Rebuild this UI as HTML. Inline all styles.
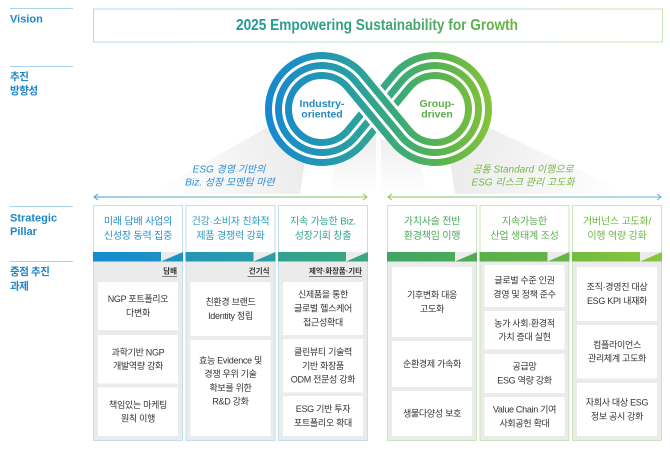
<!DOCTYPE html>
<html><head><meta charset="utf-8">
<style>
html,body{margin:0;padding:0;background:#fff;}
svg{display:block;}
text{font-family:"Liberation Sans","Noto Sans CJK KR",sans-serif;dominant-baseline:central;}
.lab{font-size:11px;font-weight:bold;fill:#1c86c8;}
.labk{font-size:10.5px;font-weight:bold;fill:#1c86c8;letter-spacing:-0.4px;}
.hd{font-size:10px;text-anchor:middle;letter-spacing:-0.2px;}
.cd{font-size:9px;fill:#333;text-anchor:middle;letter-spacing:-0.3px;}
.cat{font-size:7.5px;font-weight:bold;fill:#333;text-anchor:end;}
.itl{font-size:10px;font-style:italic;text-anchor:middle;}
</style></head><body>
<svg width="670" height="450" viewBox="0 0 670 450" xmlns="http://www.w3.org/2000/svg">
<defs>
 <linearGradient id="inf" gradientUnits="userSpaceOnUse" x1="266" y1="0" x2="492" y2="0">
  <stop offset="0" stop-color="#1787d2"/>
  <stop offset="0.4" stop-color="#2aa0a0"/>
  <stop offset="0.6" stop-color="#3dab75"/>
  <stop offset="0.8" stop-color="#5db54b"/>
  <stop offset="1" stop-color="#86c33c"/>
 </linearGradient>
 <linearGradient id="vb" x1="0" y1="0" x2="1" y2="0">
  <stop offset="0" stop-color="#b0d8f0"/><stop offset="1" stop-color="#c8e5b3"/>
 </linearGradient>
 <linearGradient id="tt" gradientUnits="userSpaceOnUse" x1="236" y1="0" x2="518" y2="0">
  <stop offset="0" stop-color="#1f979c"/><stop offset="0.5" stop-color="#3aa57a"/><stop offset="1" stop-color="#6cb440"/>
 </linearGradient>
 <linearGradient id="arL" x1="0" y1="0" x2="1" y2="0">
  <stop offset="0" stop-color="#3fa1dc"/><stop offset="1" stop-color="#8cc84b"/>
 </linearGradient>
 <linearGradient id="arR" x1="0" y1="0" x2="1" y2="0">
  <stop offset="0" stop-color="#8cc84b"/><stop offset="1" stop-color="#5fb2e2"/>
 </linearGradient>
 <linearGradient id="shL" gradientUnits="userSpaceOnUse" x1="290" y1="140" x2="160" y2="194">
  <stop offset="0" stop-color="#ececec"/><stop offset="1" stop-color="#ffffff"/>
 </linearGradient>
 <linearGradient id="shR" gradientUnits="userSpaceOnUse" x1="470" y1="140" x2="620" y2="194">
  <stop offset="0" stop-color="#ececec"/><stop offset="1" stop-color="#ffffff"/>
 </linearGradient>
 <linearGradient id="shC" x1="0" y1="0" x2="0" y2="1">
  <stop offset="0" stop-color="#ededed"/><stop offset="1" stop-color="#ffffff"/>
 </linearGradient>
 <linearGradient id="b1" x1="0" y1="0" x2="1" y2="0"><stop offset="0" stop-color="#168bcf"/><stop offset="1" stop-color="#1f92c4"/></linearGradient>
 <linearGradient id="b2" x1="0" y1="0" x2="1" y2="0"><stop offset="0" stop-color="#2496b6"/><stop offset="1" stop-color="#2b9ea6"/></linearGradient>
 <linearGradient id="b3" x1="0" y1="0" x2="1" y2="0"><stop offset="0" stop-color="#32a291"/><stop offset="1" stop-color="#3ba77c"/></linearGradient>
 <linearGradient id="b4" x1="0" y1="0" x2="1" y2="0"><stop offset="0" stop-color="#3fa663"/><stop offset="1" stop-color="#4fab55"/></linearGradient>
 <linearGradient id="b5" x1="0" y1="0" x2="1" y2="0"><stop offset="0" stop-color="#5aaf4c"/><stop offset="1" stop-color="#67b545"/></linearGradient>
 <linearGradient id="b6" x1="0" y1="0" x2="1" y2="0"><stop offset="0" stop-color="#74bb42"/><stop offset="1" stop-color="#8bc63c"/></linearGradient>
</defs>

<!-- left labels -->
<line x1="10" y1="8.5" x2="73" y2="8.5" stroke="#a9d4ee" stroke-width="1"/>
<text class="lab" x="10" y="19.5">Vision</text>
<line x1="10" y1="66.5" x2="73" y2="66.5" stroke="#a9d4ee" stroke-width="1"/>
<text class="labk" x="10" y="77">추진</text>
<text class="labk" x="10" y="91">방향성</text>
<line x1="10" y1="206.5" x2="73" y2="206.5" stroke="#a9d4ee" stroke-width="1"/>
<text class="lab" x="10" y="218.5">Strategic</text>
<text class="lab" x="10" y="232">Pillar</text>
<line x1="10" y1="261.5" x2="73" y2="261.5" stroke="#a9d4ee" stroke-width="1"/>
<text class="labk" x="10" y="272">중점 추진</text>
<text class="labk" x="10" y="286.5">과제</text>

<!-- vision box -->
<rect x="93.5" y="9" width="569" height="33" fill="#fff" stroke="url(#vb)" stroke-width="1"/>
<text x="377" y="25.7" text-anchor="middle" font-size="16" font-weight="bold" fill="url(#tt)" textLength="282" lengthAdjust="spacingAndGlyphs">2025 Empowering Sustainability for Growth</text>

<!-- shading -->
<polygon points="266,128 305,160 300,194 150,194" fill="url(#shL)"/>
<polygon points="490,128 450,160 455,194 630,194" fill="url(#shR)"/>
<polygon points="340,135 416,135 426,194 330,194" fill="url(#shC)"/>
<rect x="376" y="135" width="5" height="59" fill="#ffffff" opacity="0.85"/>

<!-- infinity -->
<path d="M355.49,136.76 L401.51,81.24 A43.5,43.5 0 1 1 401.51,136.76 L355.49,81.24 A43.5,43.5 0 1 0 355.49,136.76 Z" fill="#fff"/>
<g fill="none" stroke-linecap="butt">
 <path d="M355.49,136.76 L401.51,81.24 A43.5,43.5 0 1 1 401.51,136.76" stroke="url(#inf)" stroke-width="27"/>
 <path d="M355.49,136.76 L401.51,81.24 A43.5,43.5 0 1 1 401.51,136.76" stroke="#fff" stroke-width="13"/>
 <path d="M355.49,136.76 L401.51,81.24 A43.5,43.5 0 1 1 401.51,136.76" stroke="url(#inf)" stroke-width="7"/>
 <path d="M396,130.1 L361,87.9" stroke="#fff" stroke-width="33"/>
 <path d="M401.51,136.76 L355.49,81.24 A43.5,43.5 0 1 0 355.49,136.76" stroke="url(#inf)" stroke-width="27"/>
 <path d="M401.51,136.76 L355.49,81.24 A43.5,43.5 0 1 0 355.49,136.76" stroke="#fff" stroke-width="13"/>
 <path d="M401.51,136.76 L355.49,81.24 A43.5,43.5 0 1 0 355.49,136.76" stroke="url(#inf)" stroke-width="7"/>
</g>
<text x="322" y="104" text-anchor="middle" font-size="10.5" font-weight="bold" fill="#2589c2">Industry-</text>
<text x="322" y="114.5" text-anchor="middle" font-size="10.5" font-weight="bold" fill="#2589c2">oriented</text>
<text x="437" y="104" text-anchor="middle" font-size="10.5" font-weight="bold" fill="#5aaf45">Group-</text>
<text x="437" y="114.5" text-anchor="middle" font-size="10.5" font-weight="bold" fill="#5aaf45">driven</text>

<!-- italic captions -->
<text class="itl" x="229" y="170" fill="#2d8fd4">ESG 경영 기반의</text>
<text class="itl" x="230" y="183" fill="#2d8fd4">Biz. 성장 모멘텀 마련</text>
<text class="itl" x="523" y="170" fill="#77b843">공통 Standard 이행으로</text>
<text class="itl" x="523" y="183" fill="#77b843">ESG 리스크 관리 고도화</text>

<!-- arrows -->
<g fill="none" stroke-width="1">
 <path d="M94,197 L367,197 M98,194 L94,197 L98,200 M363,194 L367,197 L363,200" stroke="url(#arL)"/>
 <path d="M388,197 L661,197 M392,194 L388,197 L392,200 M657,194 L661,197 L657,200" stroke="url(#arR)"/>
</g>

<!-- columns: left group -->
<g>
 <!-- col1 -->
 <rect x="93.5" y="205.5" width="89" height="235" fill="#ebebeb" stroke="#c3e0ee"/>
 <rect x="94" y="206" width="88" height="46" fill="#fff"/>
 <polygon points="93,252 161,252 161,261.5 183,252 183,261.5 93,261.5" fill="url(#b1)"/>
 <text class="hd" x="138" y="222" fill="#238dd0">미래 담배 사업의</text>
 <text class="hd" x="138" y="236.5" fill="#238dd0">신성장 동력 집중</text>
 <text class="cat" x="177" y="271">담배</text>
 <line x1="162" y1="276.5" x2="177" y2="276.5" stroke="#555" stroke-width="0.7"/>
 <rect x="98" y="282" width="80" height="48" fill="#fff"/>
 <rect x="98" y="335" width="80" height="48.5" fill="#fff"/>
 <rect x="98" y="387.5" width="80" height="48.5" fill="#fff"/>
 <text class="cd" x="138" y="299.1">NGP 포트폴리오</text>
 <text class="cd" x="138" y="312.9">다변화</text>
 <text class="cd" x="138" y="352.4">과학기반 NGP</text>
 <text class="cd" x="138" y="366.2">개발역량 강화</text>
 <text class="cd" x="138" y="404.9">책임있는 마케팅</text>
 <text class="cd" x="138" y="418.7">원칙 이행</text>

 <!-- col2 -->
 <rect x="186" y="205.5" width="89" height="235" fill="#ebebeb" stroke="#c3e0ee"/>
 <rect x="186.5" y="206" width="88" height="46" fill="#fff"/>
 <polygon points="185.5,252 253.5,252 253.5,261.5 275.5,252 275.5,261.5 185.5,261.5" fill="url(#b2)"/>
 <text class="hd" x="230.5" y="222" fill="#2a9bbf">건강·소비자 친화적</text>
 <text class="hd" x="230.5" y="236.5" fill="#2a9bbf">제품 경쟁력 강화</text>
 <text class="cat" x="269.5" y="271">건기식</text>
 <line x1="247.5" y1="276.5" x2="269.5" y2="276.5" stroke="#555" stroke-width="0.7"/>
 <rect x="190.5" y="282" width="80" height="54" fill="#fff"/>
 <rect x="190.5" y="340" width="80" height="96" fill="#fff"/>
 <text class="cd" x="230.5" y="302.1">친환경 브랜드</text>
 <text class="cd" x="230.5" y="315.9">Identity 정립</text>
 <text class="cd" x="230.5" y="360.3">효능 Evidence 및</text>
 <text class="cd" x="230.5" y="374.1">경쟁 우위 기술</text>
 <text class="cd" x="230.5" y="387.9">확보를 위한</text>
 <text class="cd" x="230.5" y="401.7">R&amp;D 강화</text>

 <!-- col3 -->
 <rect x="278.5" y="205.5" width="89" height="235" fill="#ebebeb" stroke="#c3e0ee"/>
 <rect x="279" y="206" width="88" height="46" fill="#fff"/>
 <polygon points="278,252 346,252 346,261.5 368,252 368,261.5 278,261.5" fill="url(#b3)"/>
 <text class="hd" x="323" y="222" fill="#2ba58e">지속 가능한 Biz.</text>
 <text class="hd" x="323" y="236.5" fill="#2ba58e">성장기회 창출</text>
 <text class="cat" x="362" y="271" textLength="53" lengthAdjust="spacingAndGlyphs">제약·화장품·기타</text>
 <line x1="309" y1="276.5" x2="362" y2="276.5" stroke="#555" stroke-width="0.7"/>
 <rect x="283" y="282" width="80" height="53" fill="#fff"/>
 <rect x="283" y="339" width="80" height="53.5" fill="#fff"/>
 <rect x="283" y="396" width="80" height="40" fill="#fff"/>
 <text class="cd" x="323" y="294.7">신제품을 통한</text>
 <text class="cd" x="323" y="308.5">글로벌 헬스케어</text>
 <text class="cd" x="323" y="322.3">접근성확대</text>
 <text class="cd" x="323" y="352">클린뷰티 기술력</text>
 <text class="cd" x="323" y="365.8">기반 화장품</text>
 <text class="cd" x="323" y="379.6">ODM 전문성 강화</text>
 <text class="cd" x="323" y="409.1">ESG 기반 투자</text>
 <text class="cd" x="323" y="422.9">포트폴리오 확대</text>
</g>

<!-- columns: right group -->
<g>
 <!-- col4 -->
 <rect x="387.5" y="205.5" width="89" height="235" fill="#ebebeb" stroke="#cbe6bb"/>
 <rect x="388" y="206" width="88" height="46" fill="#fff"/>
 <polygon points="387,252 455,252 455,261.5 477,252 477,261.5 387,261.5" fill="url(#b4)"/>
 <text class="hd" x="432" y="222" fill="#44a95a">가치사슬 전반</text>
 <text class="hd" x="432" y="236.5" fill="#44a95a">환경책임 이행</text>
 <rect x="392" y="267" width="80" height="70" fill="#fff"/>
 <rect x="392" y="341" width="80" height="46" fill="#fff"/>
 <rect x="392" y="391" width="80" height="45" fill="#fff"/>
 <text class="cd" x="432" y="295.1">기후변화 대응</text>
 <text class="cd" x="432" y="308.9">고도화</text>
 <text class="cd" x="432" y="364">순환경제 가속화</text>
 <text class="cd" x="432" y="413.5">생물다양성 보호</text>

 <!-- col5 -->
 <rect x="480" y="205.5" width="89" height="235" fill="#ebebeb" stroke="#cbe6bb"/>
 <rect x="480.5" y="206" width="88" height="46" fill="#fff"/>
 <polygon points="479.5,252 547.5,252 547.5,261.5 569.5,252 569.5,261.5 479.5,261.5" fill="url(#b5)"/>
 <text class="hd" x="524.5" y="222" fill="#55ae49">지속가능한</text>
 <text class="hd" x="524.5" y="236.5" fill="#55ae49">산업 생태계 조성</text>
 <rect x="484.5" y="265" width="80" height="42" fill="#fff"/>
 <rect x="484.5" y="311" width="80" height="38.5" fill="#fff"/>
 <rect x="484.5" y="354" width="80" height="39" fill="#fff"/>
 <rect x="484.5" y="397" width="80" height="39" fill="#fff"/>
 <text class="cd" x="524.5" y="280.6">글로벌 수준 인권</text>
 <text class="cd" x="524.5" y="294.4">경영 및 정책 준수</text>
 <text class="cd" x="524.5" y="323.4">농가 사회·환경적</text>
 <text class="cd" x="524.5" y="337.2">가치 증대 실현</text>
 <text class="cd" x="524.5" y="366.6">공급망</text>
 <text class="cd" x="524.5" y="380.4">ESG 역량 강화</text>
 <text class="cd" x="524.5" y="409.6">Value Chain 기여</text>
 <text class="cd" x="524.5" y="423.4">사회공헌 확대</text>

 <!-- col6 -->
 <rect x="572.5" y="205.5" width="89" height="235" fill="#ebebeb" stroke="#cbe6bb"/>
 <rect x="573" y="206" width="88" height="46" fill="#fff"/>
 <polygon points="572,252 640,252 640,261.5 662,252 662,261.5 572,261.5" fill="url(#b6)"/>
 <text class="hd" x="617" y="222" fill="#6cb93f">거버넌스 고도화/</text>
 <text class="hd" x="617" y="236.5" fill="#6cb93f">이행 역량 강화</text>
 <rect x="577" y="267" width="80" height="54" fill="#fff"/>
 <rect x="577" y="325" width="80" height="53.5" fill="#fff"/>
 <rect x="577" y="383" width="80" height="53" fill="#fff"/>
 <text class="cd" x="617" y="287.1">조직·경영진 대상</text>
 <text class="cd" x="617" y="300.9">ESG KPI 내재화</text>
 <text class="cd" x="617" y="344.9">컴플라이언스</text>
 <text class="cd" x="617" y="358.7">관리체계 고도화</text>
 <text class="cd" x="617" y="402.6">자회사 대상 ESG</text>
 <text class="cd" x="617" y="416.4">정보 공시 강화</text>
</g>
</svg>
</body></html>
